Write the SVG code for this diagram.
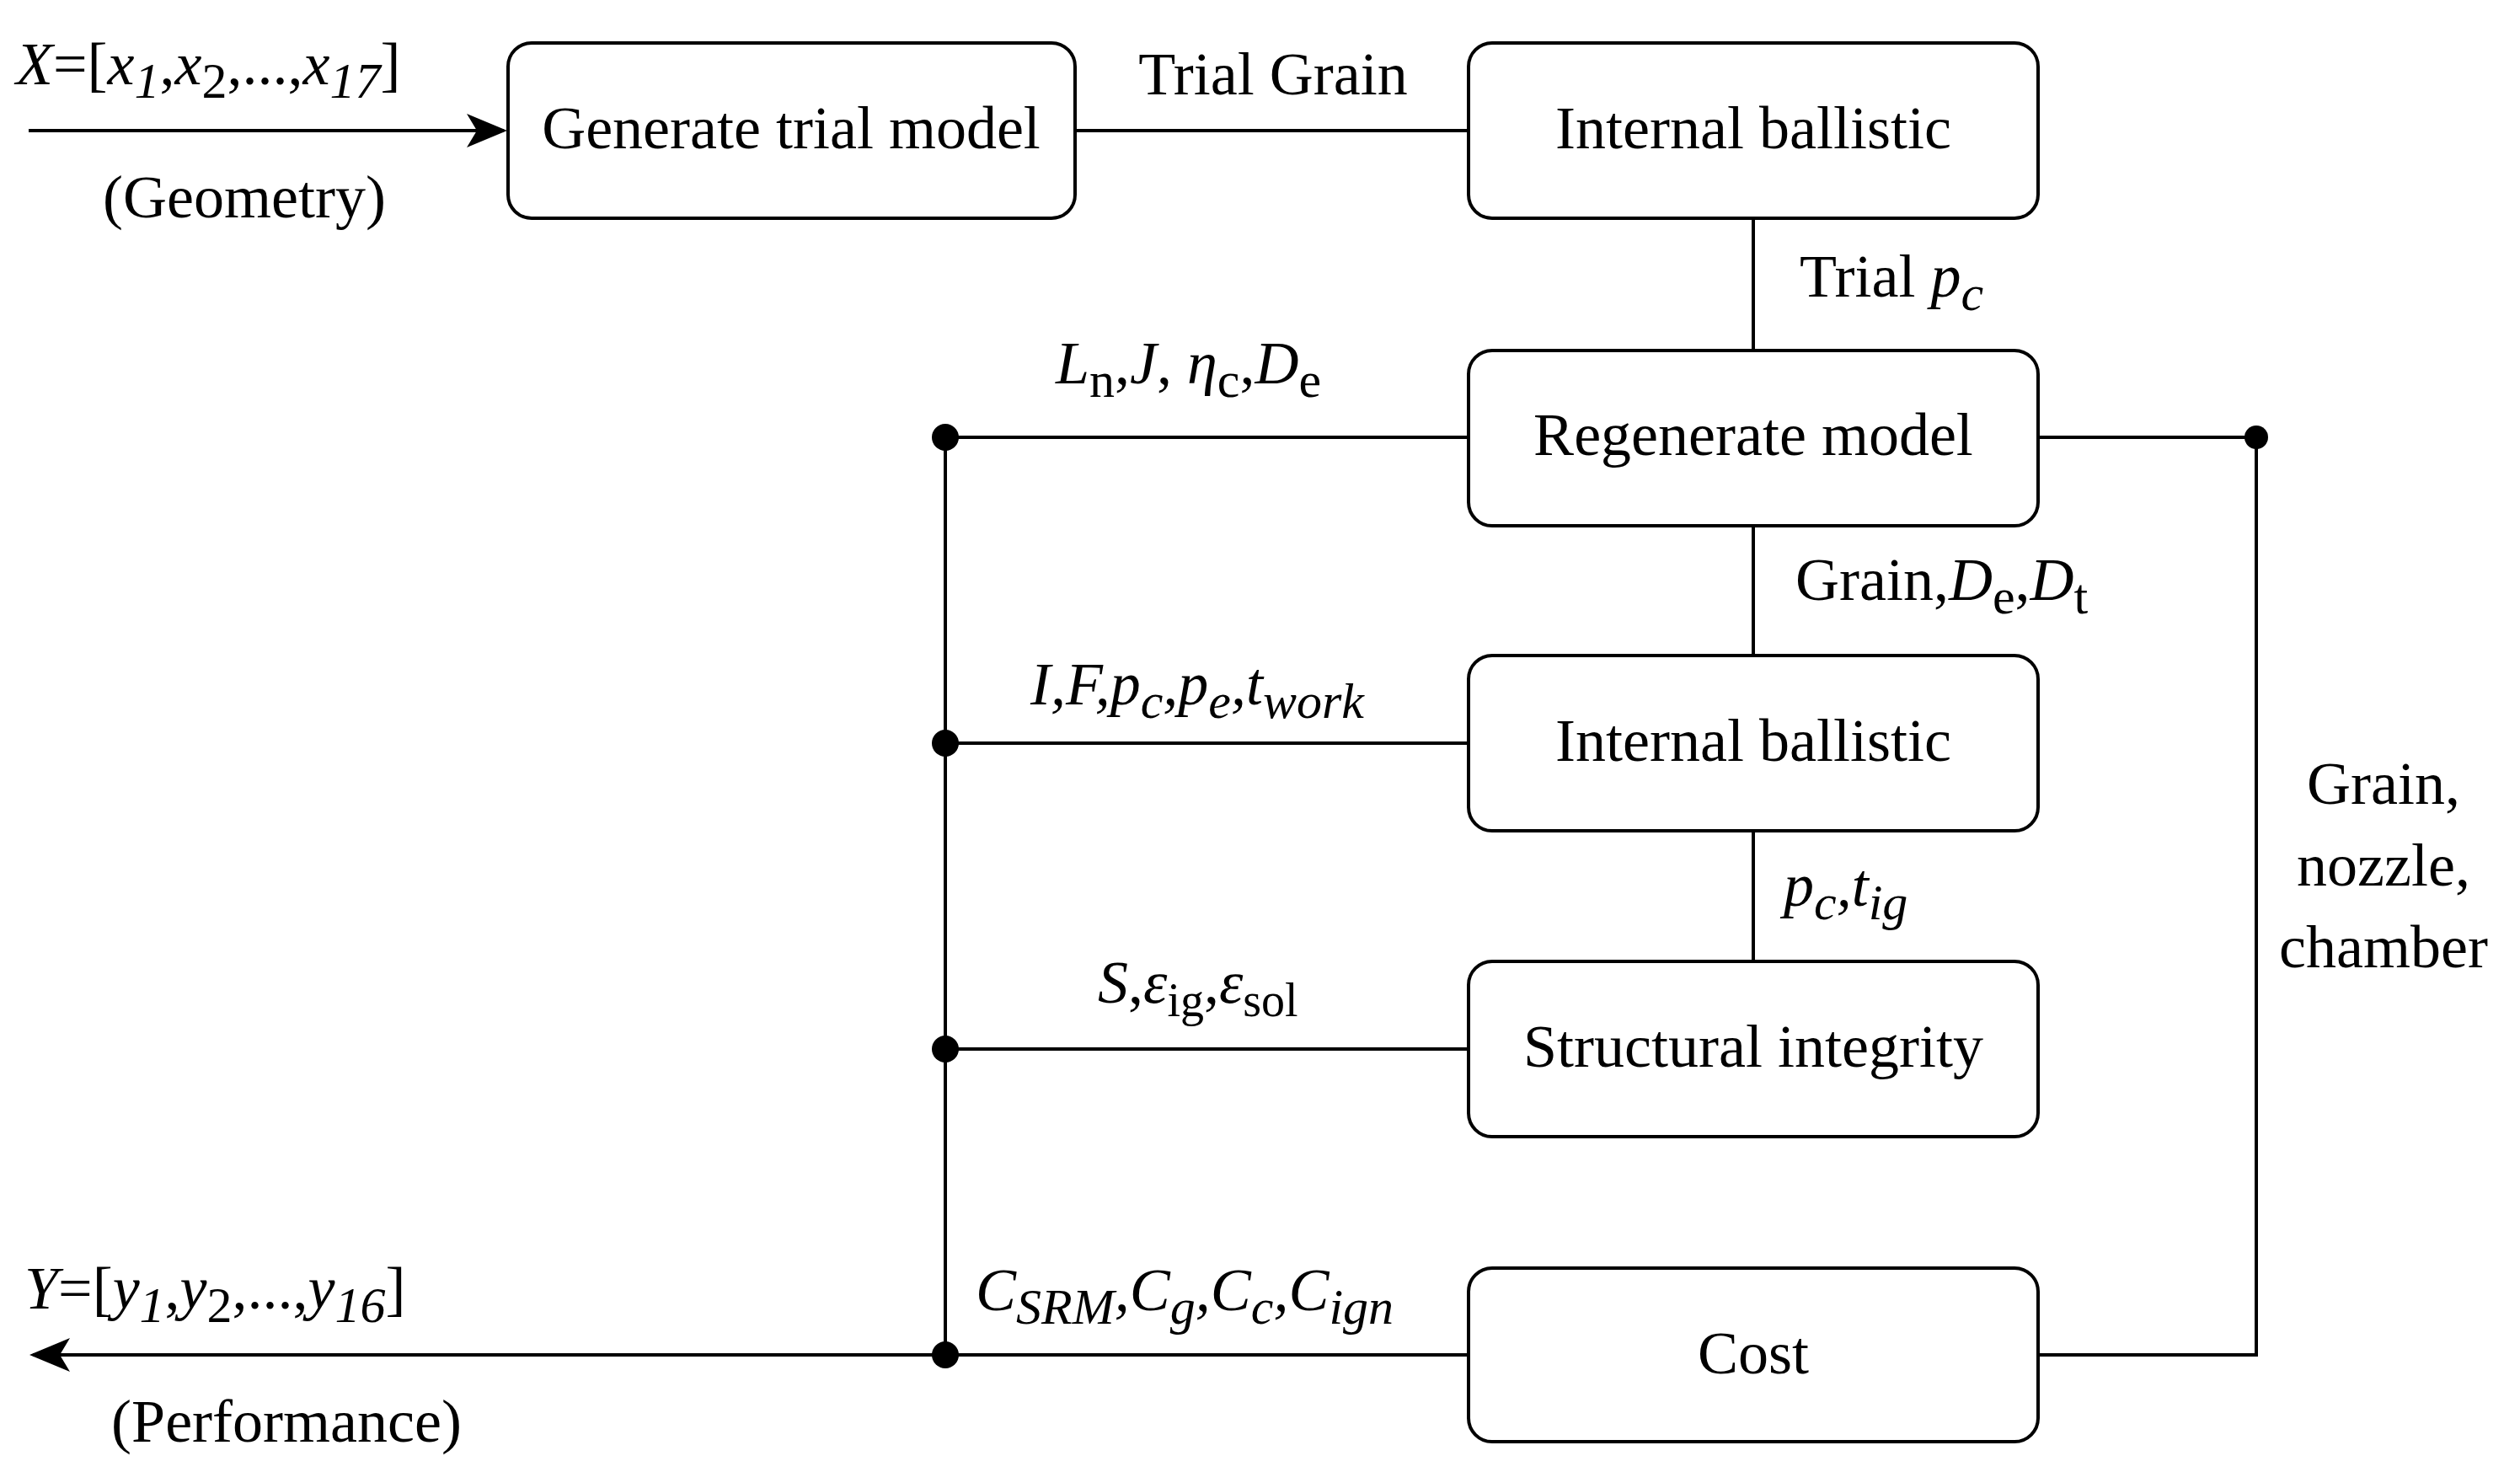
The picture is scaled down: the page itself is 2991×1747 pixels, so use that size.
<svg xmlns="http://www.w3.org/2000/svg" width="2991" height="1747" viewBox="0 0 2991 1747">
<style>
.b{fill:#fff;stroke:#000;stroke-width:4}
.c{fill:none;stroke:#000;stroke-width:4}
text{font-family:"Liberation Serif","Times New Roman",serif;font-size:72px;fill:#000}
.m{text-anchor:middle}
.i{font-style:italic}
</style>
<defs>
<marker id="ah" markerWidth="12" markerHeight="10" refX="11" refY="5" orient="auto" markerUnits="strokeWidth"><path d="M0,0 L12,5 L0,10 L3,5 Z" fill="#000"/></marker>
</defs>
<rect width="2991" height="1747" fill="#fff"/>
<g id="connectors">
<path class="c" d="M34,155 H598" marker-end="url(#ah)"/>
<path class="c" d="M1276,155 H1743"/>
<path class="c" d="M2081,259 V416"/>
<path class="c" d="M2081,624 V778"/>
<path class="c" d="M2081,986 V1141"/>
<path class="c" d="M1743,519 H1122 V1608"/>
<path class="c" d="M1743,882 H1122"/>
<path class="c" d="M1743,1245 H1122"/>
<path class="c" d="M1743,1608 H39" marker-end="url(#ah)"/>
<path class="c" d="M2419,519 H2678 V1608 H2419"/>
<circle cx="1122" cy="519" r="16"/>
<circle cx="1122" cy="882" r="16"/>
<circle cx="1122" cy="1245" r="16"/>
<circle cx="1122" cy="1608" r="16"/>
<circle cx="2678" cy="519" r="14"/>
</g>
<g id="gen"><rect class="b" x="603" y="51" width="673" height="208" rx="28"/><text class="m" x="939" y="176">Generate trial model</text></g>
<g id="ib1"><rect class="b" x="1743" y="51" width="676" height="208" rx="28"/><text class="m" x="2081" y="176">Internal ballistic</text></g>
<g id="regen"><rect class="b" x="1743" y="416" width="676" height="208" rx="28"/><text class="m" x="2081" y="540">Regenerate model</text></g>
<g id="ib2"><rect class="b" x="1743" y="778" width="676" height="208" rx="28"/><text class="m" x="2081" y="903">Internal ballistic</text></g>
<g id="struct"><rect class="b" x="1743" y="1141" width="676" height="208" rx="28"/><text class="m" x="2081" y="1266">Structural integrity</text></g>
<g id="cost"><rect class="b" x="1743" y="1505" width="676" height="206" rx="28"/><text class="m" x="2081" y="1630">Cost</text></g>
<g id="labels">
<text x="19" y="100" font-size="86"><tspan class="i">X</tspan>=[<tspan class="i">x</tspan><tspan class="i" font-size="60" dy="16">1</tspan><tspan dy="-16">,</tspan><tspan class="i">x</tspan><tspan font-size="60" dy="16">2</tspan><tspan dy="-16">,...,</tspan><tspan class="i">x</tspan><tspan class="i" font-size="60" dy="16">17</tspan><tspan dy="-16">]</tspan></text>
<text class="m" x="290" y="258" font-size="84">(Geometry)</text>
<text class="m" x="1511" y="112" font-size="84">Trial Grain</text>
<text x="2136" y="352" font-size="84">Trial <tspan class="i">p</tspan><tspan class="i" font-size="60" dy="16">c</tspan></text>
<text x="1253" y="455" font-size="84"><tspan class="i">L</tspan><tspan font-size="60" dy="16">n</tspan><tspan dy="-16">,</tspan><tspan class="i">J</tspan>, <tspan class="i">η</tspan><tspan font-size="60" dy="16">c</tspan><tspan dy="-16">,</tspan><tspan class="i">D</tspan><tspan font-size="60" dy="16">e</tspan></text>
<text x="2131" y="712" font-size="84">Grain,<tspan class="i">D</tspan><tspan font-size="60" dy="16">e</tspan><tspan dy="-16">,</tspan><tspan class="i">D</tspan><tspan font-size="60" dy="16">t</tspan></text>
<text x="1223" y="836" font-size="84" class="i">I,F,p<tspan font-size="60" dy="16">c</tspan><tspan dy="-16">,p</tspan><tspan font-size="60" dy="16">e</tspan><tspan dy="-16">,t</tspan><tspan font-size="60" dy="16">work</tspan></text>
<text x="2117" y="1075" font-size="84" class="i">p<tspan font-size="60" dy="16">c</tspan><tspan dy="-16">,t</tspan><tspan font-size="60" dy="16">ig</tspan></text>
<text x="1303" y="1190" font-size="78"><tspan class="i">S</tspan>,<tspan class="i">ε</tspan><tspan font-size="56" dy="16">ig</tspan><tspan dy="-16">,</tspan><tspan class="i">ε</tspan><tspan font-size="56" dy="16">sol</tspan></text>
<text class="m" x="2829" y="954" font-size="80">Grain,</text>
<text class="m" x="2829" y="1051" font-size="80">nozzle,</text>
<text class="m" x="2829" y="1148" font-size="80">chamber</text>
<text x="29" y="1553" font-size="86"><tspan class="i">Y</tspan>=[<tspan class="i">y</tspan><tspan class="i" font-size="60" dy="16">1</tspan><tspan dy="-16">,</tspan><tspan class="i">y</tspan><tspan font-size="60" dy="16">2</tspan><tspan dy="-16">,...,</tspan><tspan class="i">y</tspan><tspan class="i" font-size="60" dy="16">16</tspan><tspan dy="-16">]</tspan></text>
<text class="m" x="340" y="1711" font-size="84">(Performance)</text>
<text x="1158" y="1555" font-size="84" class="i">C<tspan font-size="60" dy="16">SRM</tspan><tspan dy="-16">,C</tspan><tspan font-size="60" dy="16">g</tspan><tspan dy="-16">,C</tspan><tspan font-size="60" dy="16">c</tspan><tspan dy="-16">,C</tspan><tspan font-size="60" dy="16">ign</tspan></text>
</g>
</svg>
